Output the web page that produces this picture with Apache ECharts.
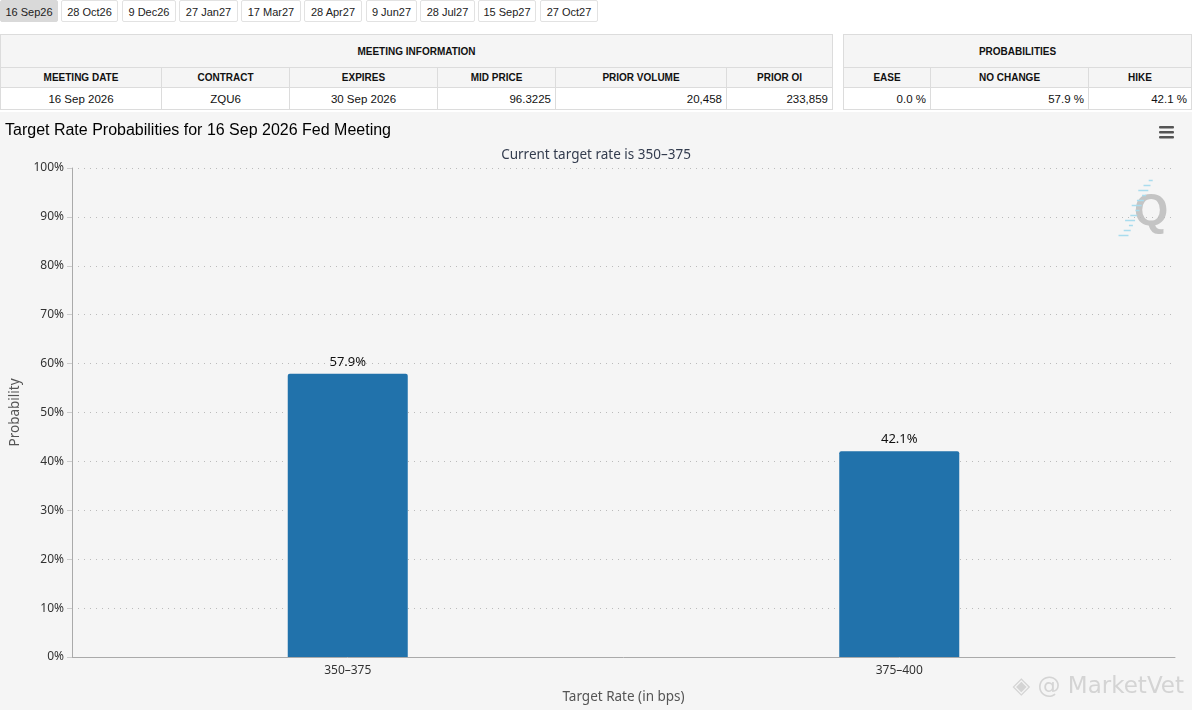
<!DOCTYPE html>
<html>
<head>
<meta charset="utf-8">
<script src="https://cdn.jsdelivr.net/npm/echarts@6/dist/echarts.min.js"></script>
<style>
  body { margin: 0; width: 1192px; height: 710px; overflow: hidden; background: #fff; font-family: "Liberation Sans", Arial, sans-serif; position: relative; }
  .tabs { position: absolute; top: 0; left: 0; height: 23px; }
  .tab { position: absolute; top: 0; height: 22px; line-height: 22px; border: 1px solid #e2e2e2; border-radius: 2px; font-size: 11px; color: #222; text-align: center; box-sizing: border-box; background: #fff; }
  .tab.active { background: #d9d9d9; border-color: #d9d9d9; }
  table { position: absolute; border-collapse: collapse; table-layout: fixed; font-size: 11.5px; color: #111; }
  td { border: 1px solid #dcdcdc; padding: 0 4px; box-sizing: border-box; }
  tr.h1 td { height: 33px; background: #f5f5f5; font-weight: bold; font-size: 10px; text-align: center; }
  tr.h2 td { height: 20px; background: #f5f5f5; font-weight: bold; font-size: 10px; text-align: center; }
  tr.d td { height: 22px; background: #fff; text-align: right; }
  tr.d td.c { text-align: center; }
  #main { position: absolute; left: 0; top: 112px; width: 1192px; height: 598px; }
</style>
</head>
<body>
<div class="tabs" id="tabs"></div>
<table id="info" style="left:0; top:34px; width:832px;"></table>
<table id="prob" style="left:843px; top:34px; width:348px;"></table>
<div id="main"></div>
<script>
// meeting tabs
const meetingTabs = ['16 Sep26', '28 Oct26', '9 Dec26', '27 Jan27', '17 Mar27', '28 Apr27', '9 Jun27', '28 Jul27', '15 Sep27', '27 Oct27'];
const tabLeft = [0, 61, 122, 179, 241, 304, 366, 420, 478, 540];
const tabWidth = [58, 57, 54, 59, 60, 58, 51, 55, 58, 58];

// meeting information table
const infoHeaders = ['MEETING DATE', 'CONTRACT', 'EXPIRES', 'MID PRICE', 'PRIOR VOLUME', 'PRIOR OI'];
const infoValues = ['16 Sep 2026', 'ZQU6', '30 Sep 2026', '96.3225', '20,458', '233,859'];
const infoWidths = [161, 128, 148, 118, 171, 106];

// probabilities table
const probHeaders = ['EASE', 'NO CHANGE', 'HIKE'];
const probValues = ['0.0 %', '57.9 %', '42.1 %'];
const probWidths = [87, 158, 103];

// chart data
const targetRates = ['350-375', '375-400'];
const probabilities = [57.9, 42.1];
const currentRate = '350-375';

const tabs = document.getElementById('tabs');
meetingTabs.forEach((t, i) => {
    const d = document.createElement('div');
    d.className = 'tab' + (i === 0 ? ' active' : '');
    d.style.left = tabLeft[i] + 'px';
    d.style.width = tabWidth[i] + 'px';
    d.textContent = t;
    tabs.appendChild(d);
});

function buildTable(el, title, headers, values, widths, centered) {
    let html = '<colgroup>' + widths.map(w => '<col style="width:' + w + 'px">').join('') + '</colgroup>';
    html += '<tr class="h1"><td colspan="' + headers.length + '">' + title + '</td></tr>';
    html += '<tr class="h2">' + headers.map(h => '<td>' + h + '</td>').join('') + '</tr>';
    html += '<tr class="d">' + values.map((v, i) => '<td' + (centered.includes(i) ? ' class="c"' : '') + '>' + v + '</td>').join('') + '</tr>';
    el.innerHTML = html;
}
buildTable(document.getElementById('info'), 'MEETING INFORMATION', infoHeaders, infoValues, infoWidths, [0, 1, 2]);
buildTable(document.getElementById('prob'), 'PROBABILITIES', probHeaders, probValues, probWidths, []);

const chartDom = document.getElementById('main');
const myChart = echarts.init(chartDom);
const axisFont = '"Noto Sans", "DejaVu Sans", sans-serif';

const option = {
    backgroundColor: '#f5f5f5',
    animation: false,
    title: [
        {
            text: 'Target Rate Probabilities for 16 Sep 2026 Fed Meeting',
            left: 0,
            top: 6,
            textStyle: { fontFamily: '"Liberation Sans", Arial, sans-serif', fontSize: 16, fontWeight: 'normal', color: '#000' }
        },
        {
            text: 'Current target rate is ' + currentRate.replace('-', '–'),
            left: 'center',
            top: 31,
            textStyle: { fontFamily: axisFont, fontSize: 13.5, fontWeight: 'normal', color: '#333c4e' }
        }
    ],
    grid: { left: 67, right: 17, top: 56, bottom: 53 },
    xAxis: {
        type: 'category',
        data: targetRates,
        name: 'Target Rate (in bps)',
        nameLocation: 'middle',
        nameGap: 33,
        nameTextStyle: { fontFamily: axisFont, fontSize: 13.5, color: '#555' },
        axisLine: { lineStyle: { color: '#aaa' } },
        axisTick: { alignWithLabel: true, length: 8, lineStyle: { color: '#ccc' } },
        axisLabel: {
            fontFamily: axisFont, fontSize: 12, color: '#333', margin: 8,
            formatter: v => v.replace('-', '–')
        }
    },
    yAxis: {
        type: 'value',
        min: 0,
        max: 100,
        interval: 10,
        name: 'Probability',
        nameLocation: 'middle',
        nameGap: 50,
        nameTextStyle: { fontFamily: axisFont, fontSize: 13.5, color: '#555' },
        axisLine: { show: true, lineStyle: { color: '#aaa' } },
        axisTick: { show: true, length: 5, lineStyle: { color: '#ccc' } },
        axisLabel: { fontFamily: axisFont, fontSize: 12, color: '#333', margin: 8, formatter: '{value}%' },
        splitLine: { lineStyle: { type: [1, 5], color: '#bbb' } }
    },
    series: [
        {
            type: 'bar',
            data: probabilities,
            barWidth: 120,
            itemStyle: { color: '#2172ab', borderRadius: [2, 2, 0, 0] },
            label: {
                show: true,
                position: 'top',
                distance: 5,
                fontFamily: axisFont,
                fontSize: 13,
                color: '#111',
                formatter: p => p.value.toFixed(1) + '%'
            }
        }
    ],
    graphic: {
        elements: [
            // menu icon
            { type: 'rect', left: 1159, top: 14, shape: { width: 15, height: 2.5, r: 1 }, style: { fill: '#555' } },
            { type: 'rect', left: 1159, top: 19, shape: { width: 15, height: 2.5, r: 1 }, style: { fill: '#555' } },
            { type: 'rect', left: 1159, top: 24, shape: { width: 15, height: 2.5, r: 1 }, style: { fill: '#555' } },
            // logo
            {
                type: 'text', left: 1134, top: 79,
                style: { text: 'Q', fontFamily: '"Liberation Sans", Arial, sans-serif', fontSize: 44, fontWeight: 'bold', fill: '#c4c4c4' }
            },
            {
                type: 'group', left: 1116, top: 66,
                children: [0, 1, 2, 3, 4, 5, 6, 7, 8, 9, 10, 11].map(i => ({
                    type: 'line',
                    shape: { x1: 34 - i * 2.2 - (i % 3) * 3, y1: i * 5, x2: 38 - i * 2.2, y2: i * 5 },
                    style: { stroke: '#a9dcee', lineWidth: 1.5 }
                }))
            },
            // watermark
            {
                type: 'text', right: 8, bottom: 11,
                style: { text: '◈ @ MarketVet', fontFamily: '"DejaVu Sans", sans-serif', fontSize: 23, fill: '#d4d4d4' }
            }
        ]
    }
};
myChart.setOption(option);
</script>
</body>
</html>
